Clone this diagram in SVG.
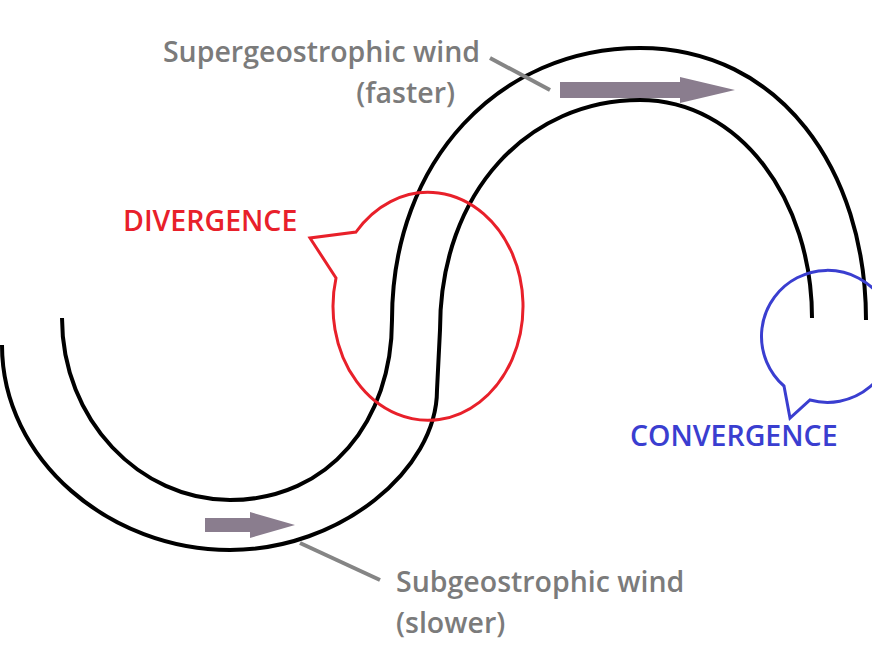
<svg xmlns="http://www.w3.org/2000/svg" width="872" height="652" viewBox="0 0 872 652">
<style>
.w{fill:none;stroke:#000;stroke-width:4}
.t{font-family:"Open Sans",sans-serif;font-weight:600;font-size:28.5px}
.g{fill:#7b7b7b}
.ar{fill:#8a7d8e}
.ld{stroke:#858585;stroke-width:4}
</style>
<rect width="872" height="652" fill="#fff"/>
<g id="connectors">
<path class="w" d="M62,318 C62,420 140,500 230,500 C330,500 392,420 392,320 C392,160 500,48 640,48 C780,48 866,170 866,320"/>
<path class="w" d="M2,345 C2,460 110,550 230,550 C340,550 437,470 437,390 L440,330 C440,190 530,100 640,100 C740,100 812,200 812,318"/>
<line class="ld" x1="490" y1="58" x2="550" y2="90"/>
<line class="ld" x1="300" y1="543" x2="380" y2="580"/>
<path class="ar" d="M560,82 L680,82 L680,77 L735,90 L680,103 L680,98 L560,98 Z"/>
<path class="ar" d="M205,518 L250,518 L250,512 L295,525 L250,538 L250,532 L205,532 Z"/>
</g>
<g id="divergence">
<path d="M356,232 A95,114 0 1 1 336,278 L310,238 Z" fill="none" stroke="#e8202a" stroke-width="3"/>
<text class="t" x="123" y="231" fill="#e8202a">DIVERGENCE</text>
</g>
<g id="convergence">
<path d="M784,386 A66,66 0 1 1 810,400 L790,418 Z" fill="none" stroke="#3a3ed0" stroke-width="3"/>
<text class="t" x="630" y="446" fill="#3a3ed0">CONVERGENCE</text>
</g>
<g id="labels">
<text class="t g" x="480" y="62" text-anchor="end">Supergeostrophic wind</text>
<text class="t g" x="455" y="103" text-anchor="end">(faster)</text>
<text class="t g" x="396" y="592">Subgeostrophic wind</text>
<text class="t g" x="396" y="633">(slower)</text>
</g>
</svg>
